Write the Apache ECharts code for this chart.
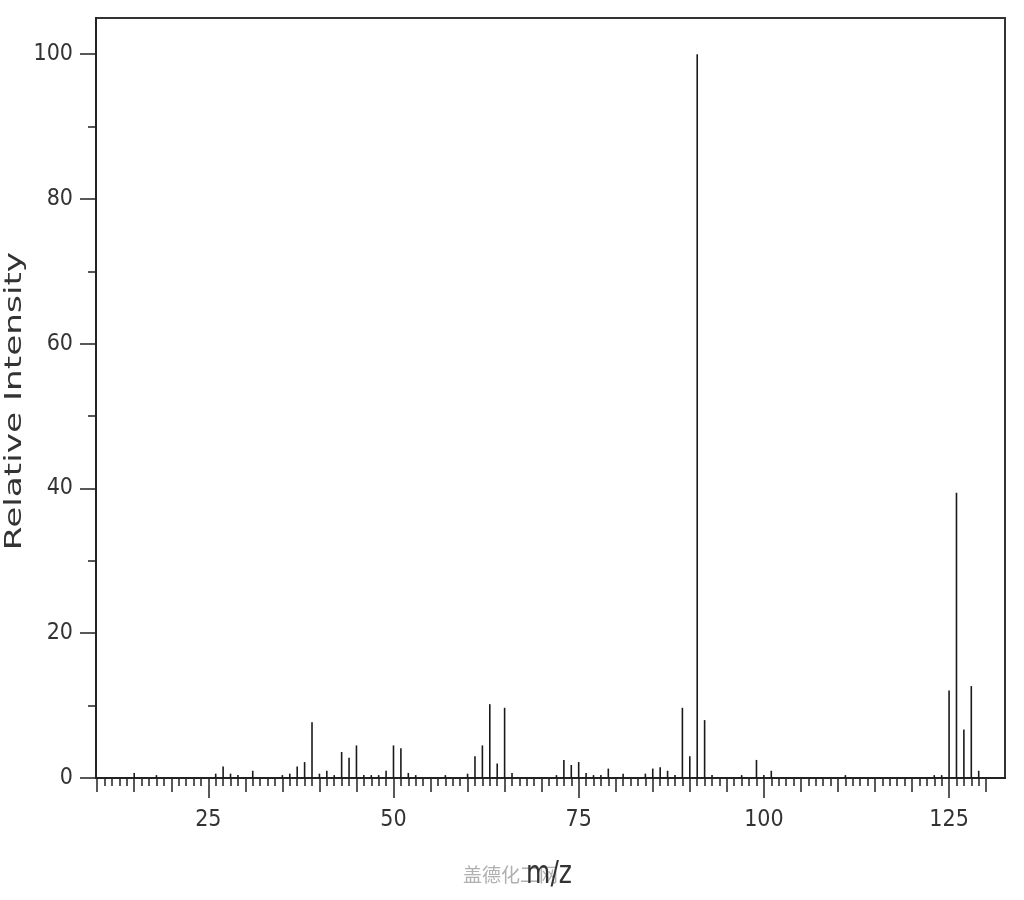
<!DOCTYPE html>
<html>
<head>
<meta charset="utf-8">
<script src="https://cdn.jsdelivr.net/npm/echarts@6/dist/echarts.min.js"></script>
<style>
  html, body { margin: 0; padding: 0; background: #ffffff; }
  #chart { width: 1024px; height: 900px; }
</style>
</head>
<body>
<div id="chart"></div>
<script>
// m/z values of the peaks
const mz = [15, 18, 26, 27, 28, 29, 31, 35, 36, 37, 38, 39, 40, 41, 42, 43, 44, 45, 46, 47, 48, 49,
  50, 51, 52, 53, 57, 60, 61, 62, 63, 64, 65, 66, 72, 73, 74, 75, 76, 77, 78, 79, 81, 84, 85, 86,
  87, 88, 89, 90, 91, 92, 93, 97, 99, 100, 101, 111, 123, 124, 125, 126, 127, 128, 129];
// relative intensities (%)
const intensity = [0.7, 0.4, 0.6, 1.6, 0.6, 0.4, 1.0, 0.4, 0.6, 1.6, 2.2, 7.7, 0.6, 1.0, 0.4, 3.6, 2.8, 4.5, 0.4, 0.4, 0.4, 1.0,
  4.5, 4.1, 0.7, 0.4, 0.4, 0.6, 3.0, 4.5, 10.2, 2.0, 9.7, 0.7, 0.4, 2.5, 1.8, 2.2, 0.7, 0.4, 0.4, 1.3, 0.6, 0.6, 1.3, 1.5,
  1.0, 0.4, 9.7, 3.0, 100, 8.0, 0.4, 0.4, 2.5, 0.4, 1.0, 0.4, 0.4, 0.4, 12.1, 39.4, 6.7, 12.7, 1.0];
// tick labels
const xTickLabels = [25, 50, 75, 100, 125];
const xTicksMedium = [10, 15, 20, 25, 30, 35, 40, 45, 50, 55, 60, 65, 70, 75, 80, 85, 90, 95, 100, 105, 110, 115, 120, 125, 130];
const xTicksSmall = [];
for (let v = 10; v <= 130; v++) xTicksSmall.push(v);
const yTickLabels = [0, 20, 40, 60, 80, 100];
const yTicksMinor = [10, 30, 50, 70, 90];

const xMin = 9.84, xMax = 132.55;
const labelFont = "'Liberation Sans Narrow', 'DejaVu Sans Condensed', 'Liberation Sans', sans-serif";
const axisColor = '#222';

const chart = echarts.init(document.getElementById('chart'), null, { renderer: 'canvas' });

function subX(ticks, len) {
  return {
    type: 'value', min: xMin, max: xMax, position: 'bottom',
    axisLine: { show: false },
    axisTick: { show: true, customValues: ticks, length: len, lineStyle: { color: axisColor, width: 1.5 } },
    axisLabel: { show: false },
    splitLine: { show: false }
  };
}

chart.setOption({
  animation: false,
  backgroundColor: '#ffffff',
  grid: {
    left: 96, right: 19, top: 18, bottom: 122,
    show: true, borderColor: '#333', borderWidth: 2, backgroundColor: 'transparent'
  },
  xAxis: [
    {
      type: 'value', min: xMin, max: xMax, position: 'bottom',
      axisLine: { show: true, onZero: false, lineStyle: { color: axisColor, width: 2 } },
      axisTick: { show: true, customValues: xTickLabels, length: 20, lineStyle: { color: axisColor, width: 1.5 } },
      axisLabel: { customValues: xTickLabels, margin: 31, fontSize: 23, fontFamily: labelFont, color: '#333' },
      splitLine: { show: false }
    },
    subX(xTicksMedium, 14),
    subX(xTicksSmall, 8)
  ],
  yAxis: [
    {
      type: 'value', min: 0, max: 105, position: 'left',
      axisLine: { show: true, lineStyle: { color: axisColor, width: 2 } },
      axisTick: { show: true, customValues: yTickLabels, length: 16, lineStyle: { color: axisColor, width: 1.5 } },
      axisLabel: { customValues: yTickLabels, margin: 23, fontSize: 23, fontFamily: labelFont, color: '#333' },
      splitLine: { show: false }
    },
    {
      type: 'value', min: 0, max: 105, position: 'left',
      axisLine: { show: false },
      axisTick: { show: true, customValues: yTicksMinor, length: 8, lineStyle: { color: axisColor, width: 1.5 } },
      axisLabel: { show: false },
      splitLine: { show: false }
    }
  ],
  series: [{
    type: 'bar',
    xAxisIndex: 0, yAxisIndex: 0,
    data: mz.map((m, i) => [m, intensity[i]]),
    barWidth: 1.6,
    itemStyle: { color: '#1a1a1a' },
    silent: true
  }],
  graphic: [
    {
      type: 'text', x: 15, y: 401, rotation: Math.PI / 2, scaleX: 1.49, z: 10,
      style: { text: 'Relative Intensity', fontSize: 23, fontFamily: "'DejaVu Sans'", fill: '#333', align: 'center', verticalAlign: 'middle' }
    },
    {
      type: 'text', x: 463, y: 875, z: 5,
      style: { text: '盖德化工网', fontSize: 19, fontFamily: "'Noto Sans CJK SC'", fill: '#b0b0b0', align: 'left', verticalAlign: 'middle' }
    },
    {
      type: 'text', x: 549, y: 875, scaleY: 1.3, z: 10,
      style: { text: 'm/z', fontSize: 25, fontFamily: "'DejaVu Sans'", fill: '#333', align: 'center', verticalAlign: 'middle' }
    }
  ]
});
</script>
</body>
</html>
